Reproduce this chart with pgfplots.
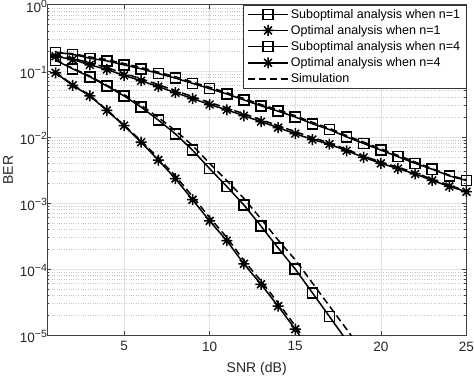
\documentclass[border=0pt]{standalone}
\usepackage{fontspec}
\setmainfont{Liberation Sans}
\usepackage{pgfplots}
\pgfplotsset{compat=1.18}
\newcommand{\tp}[1]{10\raisebox{5pt}{\fontsize{10.5}{10.5}\selectfont #1}}
\pgfdeclareplotmark{mstar}{%
  \pgfpathmoveto{\pgfqpoint{-\pgfplotmarksize}{0pt}}\pgfpathlineto{\pgfqpoint{\pgfplotmarksize}{0pt}}%
  \pgfpathmoveto{\pgfqpoint{0pt}{-\pgfplotmarksize}}\pgfpathlineto{\pgfqpoint{0pt}{\pgfplotmarksize}}%
  \pgfpathmoveto{\pgfqpoint{-.7071\pgfplotmarksize}{-.7071\pgfplotmarksize}}\pgfpathlineto{\pgfqpoint{.7071\pgfplotmarksize}{.7071\pgfplotmarksize}}%
  \pgfpathmoveto{\pgfqpoint{-.7071\pgfplotmarksize}{.7071\pgfplotmarksize}}\pgfpathlineto{\pgfqpoint{.7071\pgfplotmarksize}{-.7071\pgfplotmarksize}}%
  \pgfusepathqstroke}
\begin{document}
\begin{tikzpicture}
\begin{semilogyaxis}[
  scale only axis,
  width=419pt, height=330pt,
  xmin=0.5, xmax=25,
  ymin=1e-5, ymax=1,
  xtick={5,10,15,20,25},
  xticklabels={5,10,15,20,25},
  ytick={1e-5,1e-4,1e-3,1e-2,1e-1,1},
  yticklabels={\tp{−5},\tp{−4},\tp{−3},\tp{−2},\tp{−1},\tp{0}},
  tick align=inside,
  major tick length=4pt, minor tick length=2.5pt,
  xmajorgrids, ymajorgrids, yminorgrids,
  major grid style={gray!22, line width=0.5pt},
  minor grid style={gray!45, dotted, line width=0.5pt},
  axis line style={black!75, line width=0.6pt},
  every tick/.style={black!75, line width=0.5pt},
  tick label style={font=\fontsize{13.5}{15}\selectfont, text=black!85},
  xticklabel style={yshift=-3pt, inner xsep=0pt},
  yticklabel style={xshift=3.5pt, yshift=-1.5pt, inner ysep=0pt},
  label style={font=\fontsize{14}{16}\selectfont, text=black!85},
  xlabel={SNR (dB)},
  ylabel={BER},
  xlabel style={at={(axis description cs:0.5,-0.112)}, anchor=base, inner ysep=0pt},
  ylabel style={at={(axis description cs:-0.081,0.5)}, anchor=base},
  legend style={at={(axis description cs:1,1)}, anchor=north east,
    draw=black!80, line width=0.5pt, fill=white,
    font=\fontsize{12.5}{13}\selectfont, row sep=1.6pt,
    inner xsep=4pt, inner ysep=2pt},
  legend cell align=left,
  legend image code/.code={%
    \draw[#1, mark indices={2}] plot coordinates {(0pt,0pt) (20pt,0pt) (40pt,0pt)};},
  every axis plot/.append style={line width=1.5pt, black},
]
% Suboptimal analysis n=1
\addplot[mark=square, mark size=5pt] coordinates {
(1,0.1905)(2,0.1778)(3,0.1549)(4,0.1413)(5,0.1230)(6,0.1072)(7,0.0912)(8,0.0776)(9,0.0646)(10,0.0537)
(11,0.0447)(12,0.0363)(13,0.0295)(14,0.0245)(15,0.0200)(16,0.0158)(17,0.0129)(18,0.0100)(19,0.00794)(20,0.00631)
(21,0.00501)(22,0.00398)(23,0.00324)(24,0.00257)(25,0.00219)};
\addlegendentry{Suboptimal analysis when n=1}
% Optimal analysis n=1
\addplot[mark=mstar, mark size=5.5pt] coordinates {
(1,0.1660)(2,0.1479)(3,0.1230)(4,0.1047)(5,0.0851)(6,0.0708)(7,0.0575)(8,0.0468)(9,0.0380)(10,0.0309)
(11,0.0257)(12,0.0209)(13,0.0170)(14,0.0138)(15,0.0112)(16,0.00912)(17,0.00776)(18,0.00617)(19,0.00490)(20,0.00398)
(21,0.00331)(22,0.00275)(23,0.00219)(24,0.00178)(25,0.00148)};
\addlegendentry{Optimal analysis when n=1}
% Suboptimal analysis n=4
\addplot[mark=square, mark size=5pt, mark indices={1,2,3,4,5,6,7,8,9,10,11,12,13,14,15,16,17}] coordinates {
(1,0.1445)(2,0.1072)(3,0.0813)(4,0.0589)(5,0.0417)(6,0.0282)(7,0.0180)(8,0.0111)(9,0.00631)(10,0.00331)
(11,0.00178)(12,0.000933)(13,0.000447)(14,0.000209)(15,0.000100)(16,0.0000437)(17,0.0000191)(18,0.0000083)};
\addlegendentry{Suboptimal analysis when n=4}
% Optimal analysis n=4
\addplot[mark=mstar, mark size=5.5pt, mark indices={1,2,3,4,5,6,7,8,9,10,11,12,13,14,15}] coordinates {
(1,0.0933)(2,0.0603)(3,0.0417)(4,0.0251)(5,0.0148)(6,0.00832)(7,0.00447)(8,0.00234)(9,0.00112)(10,0.000537)
(11,0.000269)(12,0.000120)(13,0.0000589)(14,0.0000275)(15,0.0000123)(16,0.00000525)};
\addlegendentry{Optimal analysis when n=4}
% Simulation
\addplot[dash pattern=on 7pt off 4pt] coordinates {
(1,0.1905)(2,0.1820)(3,0.1622)(4,0.1479)(5,0.1288)(6,0.1122)(7,0.0955)(8,0.0813)(9,0.0676)(10,0.0562)
(11,0.0468)(12,0.0380)(13,0.0309)(14,0.0257)(15,0.0209)(16,0.0166)(17,0.0135)(18,0.01047)(19,0.00832)(20,0.00661)
(21,0.00525)(22,0.00417)(23,0.00331)(24,0.00263)(25,0.00224)};
\addlegendentry{Simulation}
\addplot[dash pattern=on 7pt off 4pt, forget plot] coordinates {
(1,0.1698)(2,0.1549)(3,0.1318)(4,0.1122)(5,0.0912)(6,0.0759)(7,0.0617)(8,0.0501)(9,0.0407)(10,0.0331)
(11,0.0275)(12,0.0224)(13,0.0182)(14,0.0148)(15,0.0120)(16,0.00977)(17,0.00813)(18,0.00646)(19,0.00513)(20,0.00417)
(21,0.00347)(22,0.00288)(23,0.00229)(24,0.00186)(25,0.00151)};
\addplot[dash pattern=on 7pt off 4pt, forget plot] coordinates {
(1,0.1479)(2,0.1096)(3,0.0832)(4,0.0603)(5,0.0437)(6,0.0302)(7,0.0197)(8,0.01245)(9,0.00741)(10,0.00398)
(11,0.00219)(12,0.001175)(13,0.000575)(14,0.000275)(15,0.000138)(16,0.0000617)(17,0.0000275)(18,0.0000123)(19,0.00000537)};
\addplot[dash pattern=on 7pt off 4pt, forget plot] coordinates {
(1,0.0955)(2,0.0617)(3,0.0427)(4,0.0257)(5,0.0151)(6,0.00871)(7,0.00479)(8,0.00257)(9,0.00126)(10,0.000603)
(11,0.000302)(12,0.000135)(13,0.0000661)(14,0.0000309)(15,0.0000138)(16,0.00000589)};
\end{semilogyaxis}
\end{tikzpicture}
\end{document}
